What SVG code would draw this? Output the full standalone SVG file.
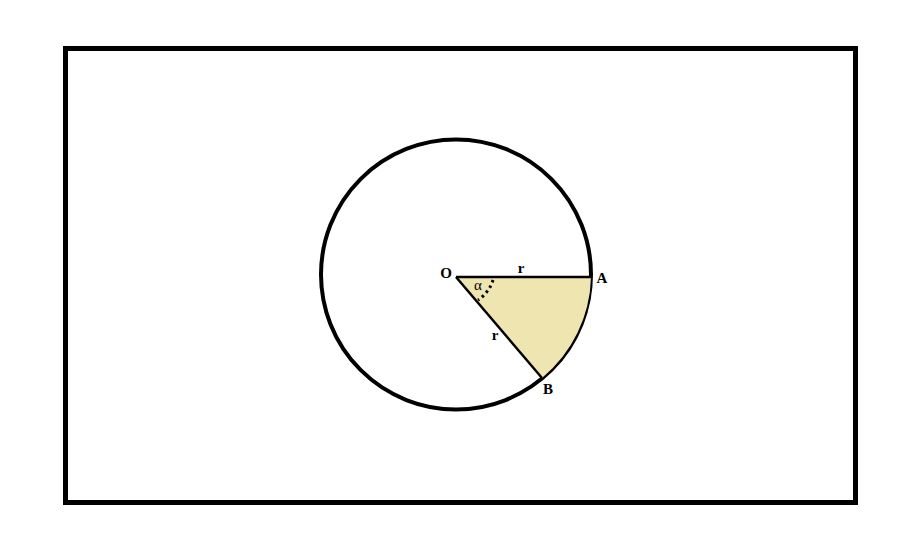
<svg xmlns="http://www.w3.org/2000/svg" width="921" height="551" viewBox="0 0 921 551">
<style>
.lbl{font-family:"Liberation Serif","Times New Roman",serif;font-weight:bold;font-size:15px;fill:#000;text-anchor:middle}
</style>
<rect width="921" height="551" fill="#fff"/>
<rect x="65.5" y="48.5" width="790" height="454" fill="none" stroke="#000" stroke-width="5"/>
<g id="circle">
<ellipse cx="456" cy="274.5" rx="135" ry="135" fill="none" stroke="#000" stroke-width="4"/>
</g>
<g id="sector">
<path d="M456,277 L591,277 A135,135 0 0 1 542,378 Z" fill="#EEE5B0"/>
</g>
<g id="connectors">
<line x1="456" y1="277" x2="591" y2="277" stroke="#000" stroke-width="2.5"/>
<line x1="456" y1="277" x2="542" y2="378" stroke="#000" stroke-width="2.5"/>
<path d="M493,280 A37,37 0 0 1 478,300" fill="none" stroke="#000" stroke-width="3" stroke-dasharray="2.5,3.5"/>
</g>
<g id="labels">
<text class="lbl" x="446" y="278">O</text>
<text class="lbl" x="521" y="273">r</text>
<text class="lbl" x="602" y="283">A</text>
<text class="lbl" x="478" y="290" style="font-weight:normal">α</text>
<text class="lbl" x="495" y="340">r</text>
<text class="lbl" x="548" y="394">B</text>
</g>
</svg>
